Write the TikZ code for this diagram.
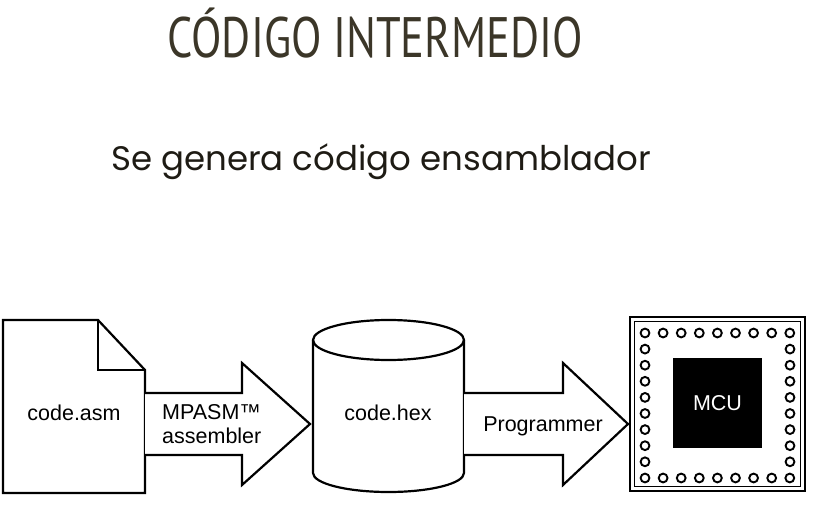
\documentclass[tikz,border=0pt]{standalone}
\usepackage{fontspec}
\setmainfont{Liberation Sans}
\newfontfamily\titlefont{PT Sans}
\newfontfamily\subfont{Poppins}
\definecolor{titlecol}{HTML}{3B3628}
\definecolor{subcol}{HTML}{1E1B14}
\begin{document}
\begin{tikzpicture}[x=1pt,y=-1pt,
  shape line/.style={draw=black,line width=2.2pt,line join=miter},
  lbl/.style={font=\fontsize{21.5}{24}\selectfont,align=left,inner sep=0pt},
  pin/.style={draw=black,line width=1.9pt,fill=white}]
\useasboundingbox (0,0) rectangle (820,522);
% title
\node[text=titlecol,font=\titlefont\fontsize{57}{62}\selectfont,xscale=0.78] (title) at (375,33) {CÓDIGO INTERMEDIO};
\node[text=subcol,font=\subfont\fontsize{34}{40}\selectfont] (sub) at (381,162) {Se genera código ensamblador};
% document
\draw[shape line,fill=white] (3,320) -- (98,320) -- (145,370) -- (145,493) -- (3,493) -- cycle;
\draw[shape line] (98,320) -- (98,370) -- (145,370);
\node[lbl] (asm) at (74,413) {code.asm};
% arrow 1
\draw[shape line,fill=white] (145,393) -- (242,393) -- (242,363) -- (310,424) -- (242,485) -- (242,455) -- (145,455);
\node[lbl,anchor=west] (mpasm) at (162,424) {MPASM\texttrademark\\assembler};
% cylinder
\draw[shape line,fill=white] (313,340) -- (313,473) arc[start angle=180,end angle=360,x radius=75.5,y radius=-19] -- (464,340);
\draw[shape line] (388.5,340) ellipse[x radius=75.5,y radius=20];
\node[lbl] (hex) at (388,413) {code.hex};
% arrow 2
\draw[shape line,fill=white] (464,393) -- (563,393) -- (563,363) -- (628,424) -- (563,485) -- (563,455) -- (464,455);
\node[lbl] (prog) at (543,426) {Programmer};
% chip
\draw[draw=black,line width=2.6pt] (630,317) rectangle (805,491);
\draw[draw=black,line width=1pt] (634.5,321.5) rectangle (800.5,486.5);
\foreach \i in {0,...,8} {
  \draw[pin] (645+\i*18.1,333) circle (4.4);
  \draw[pin] (645+\i*18.1,478) circle (4.4);
}
\foreach \j in {1,...,8} {
  \draw[pin] (645,333+\j*16.1) circle (4.4);
  \draw[pin] (790,333+\j*16.1) circle (4.4);
}
\node[fill=black,minimum width=89pt,minimum height=90pt,inner sep=0pt] (mcu) at (717.5,403) {};
\node[lbl,text=white] (mculbl) at (mcu) {MCU};
\end{tikzpicture}
\end{document}
